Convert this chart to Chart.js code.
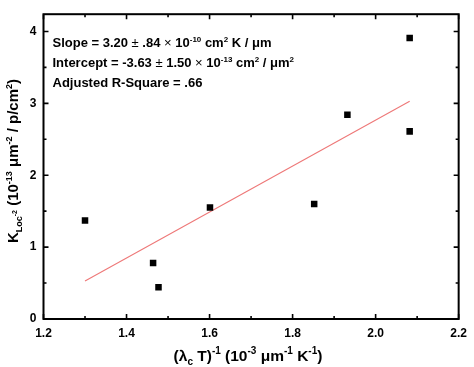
<!DOCTYPE html>
<html><head><meta charset="utf-8">
<script src="https://cdn.jsdelivr.net/npm/chart.js@4/dist/chart.umd.min.js"></script>
<style>html,body{margin:0;padding:0;background:#fff}#wrap{width:474px;height:367px}</style>
</head><body><div id="wrap"><canvas id="c" width="474" height="367"></canvas></div>
<script>
const xValues = [1.30, 1.464, 1.477, 1.601, 1.852, 1.932, 2.082, 2.082];
const yValues = [1.37, 0.78, 0.44, 1.55, 1.60, 2.84, 3.91, 2.61];
const fitX = [1.30, 2.082];
const fitY = [0.53, 3.03];
const xTicks = [1.2, 1.4, 1.6, 1.8, 2.0, 2.2];
const xMinor = [1.3, 1.5, 1.7, 1.9, 2.1];
const yTicks = [0, 1, 2, 3, 4];
const yMinor = [0.5, 1.5, 2.5, 3.5];
const annotLines = [
  [["Slope = 3.20 ",0],["\u00B1",4],[" .84 ",0],["\u00D7",4],[" 10",0],["-10",1],[" cm",0],["2",1],[" K / \u03BCm",0]],
  [["Intercept = -3.63 ",0],["\u00B1",4],[" 1.50 ",0],["\u00D7",4],[" 10",0],["-13",1],[" cm",0],["2",1],[" / \u03BCm",0],["2",1]],
  [["Adjusted R-Square = .66",0]]
];
const xTitle = [["(\u03BB",0],["c",2],[" T)",0],["-1",1],[" (10",0],["-3",1],[" \u03BCm",0],["-1",1],[" K",0],["-1",1],[")",0]];
const yTitle = [["K",0],["Loc",2],["-2",3],[" (10",0],["-13",1],[" \u03BCm",0],["-2",1],[" / p/cm",0],["2",1],[")",0]];

const FF = '"Liberation Sans", Arial, sans-serif';
function segFont(mode, size){
  if (mode === 0) return 'bold ' + size + 'px ' + FF;
  if (mode === 4) return (size) + 'px ' + FF;
  if (mode === 3) return 'bold ' + Math.round(size*0.45) + 'px ' + FF;
  return 'bold ' + Math.round(size*0.62) + 'px ' + FF;
}
function segDy(mode, size){
  if (mode === 1) return -size*0.42;
  if (mode === 2) return size*0.25;
  if (mode === 3) return -size*0.05;
  return 0;
}
function richWidth(ctx, segs, size){
  let w = 0;
  segs.forEach(s => { ctx.font = segFont(s[1], size); w += ctx.measureText(s[0]).width; });
  return w;
}
function drawRich(ctx, segs, x, y, size){
  let cx = x;
  ctx.textBaseline = 'alphabetic';
  ctx.textAlign = 'left';
  segs.forEach((s, i) => {
    ctx.font = segFont(s[1], size);
    ctx.fillText(s[0], cx, y + segDy(s[1], size));
    cx += ctx.measureText(s[0]).width;
  });
}

const framePlugin = {
  id: 'frame',
  afterDraw(chart){
    const ctx = chart.ctx, a = chart.chartArea;
    const xs = chart.scales.x, ys = chart.scales.y;
    ctx.save();
    ctx.strokeStyle = '#000';
    ctx.lineWidth = 2;
    ctx.strokeRect(a.left, a.top, a.right - a.left, a.bottom - a.top);
    ctx.lineWidth = 1.6;
    ctx.beginPath();
    const major = 5, minor = 3;
    xTicks.forEach(v => { const p = xs.getPixelForValue(v);
      ctx.moveTo(p, a.bottom); ctx.lineTo(p, a.bottom - major);
      ctx.moveTo(p, a.top); ctx.lineTo(p, a.top + major); });
    xMinor.forEach(v => { const p = xs.getPixelForValue(v);
      ctx.moveTo(p, a.bottom); ctx.lineTo(p, a.bottom - minor);
      ctx.moveTo(p, a.top); ctx.lineTo(p, a.top + minor); });
    yTicks.forEach(v => { const p = ys.getPixelForValue(v);
      ctx.moveTo(a.left, p); ctx.lineTo(a.left + major, p);
      ctx.moveTo(a.right, p); ctx.lineTo(a.right - major, p); });
    yMinor.forEach(v => { const p = ys.getPixelForValue(v);
      ctx.moveTo(a.left, p); ctx.lineTo(a.left + minor, p);
      ctx.moveTo(a.right, p); ctx.lineTo(a.right - minor, p); });
    ctx.stroke();

    ctx.fillStyle = '#000';
    const annSize = 13;
    annotLines.forEach((ln, i) => drawRich(ctx, ln, a.left + 9, a.top + 33 + i*20, annSize));

    // x title
    const ts = 15.5;
    const xw = richWidth(ctx, xTitle, ts);
    drawRich(ctx, xTitle, 248 - xw/2, 361, ts);
    // y title
    const yw = richWidth(ctx, yTitle, 15);
    ctx.save();
    ctx.translate(18, 161);
    ctx.rotate(-Math.PI/2);
    drawRich(ctx, yTitle, -yw/2, 0, 15);
    ctx.restore();
    ctx.restore();
  }
};

new Chart(document.getElementById('c'), {
  type: 'scatter',
  data: {
    datasets: [
      { data: xValues.map((x,i)=>({x, y: yValues[i]})), pointStyle: 'rect', pointRadius: 4.6,
        backgroundColor: '#000', borderColor: '#000', borderWidth: 0, showLine: false },
      { type: 'line', data: fitX.map((x,i)=>({x, y: fitY[i]})), borderColor: 'rgb(238,120,120)',
        borderWidth: 1.1, pointRadius: 0, showLine: true, fill: false }
    ]
  },
  options: {
    responsive: false, animation: false, devicePixelRatio: 1,
    layout: { padding: { top: 4.5, right: 12, left: 0, bottom: 0 } },
    plugins: { legend: { display: false }, tooltip: { enabled: false } },
    scales: {
      x: { type: 'linear', min: 1.2, max: 2.2,
        afterBuildTicks: s => { s.ticks = xTicks.map(v => ({ value: v })); },
        afterFit: s => { s.height = 48; },
        grid: { display: false, drawTicks: false }, border: { display: false },
        ticks: { padding: 7, color: '#000', font: { family: FF, size: 12, weight: 'bold' },
          maxRotation: 0, autoSkip: false, callback: v => Number(v).toFixed(1) } },
      y: { type: 'linear', min: 0, max: 4.24,
        afterBuildTicks: s => { s.ticks = yTicks.map(v => ({ value: v })); },
        afterFit: s => { s.width = 43.5; },
        grid: { display: false, drawTicks: false }, border: { display: false },
        ticks: { padding: 7, color: '#000', font: { family: FF, size: 12, weight: 'bold' },
          autoSkip: false, callback: v => String(v) } }
    }
  },
  plugins: [framePlugin]
});
</script>
</body></html>
